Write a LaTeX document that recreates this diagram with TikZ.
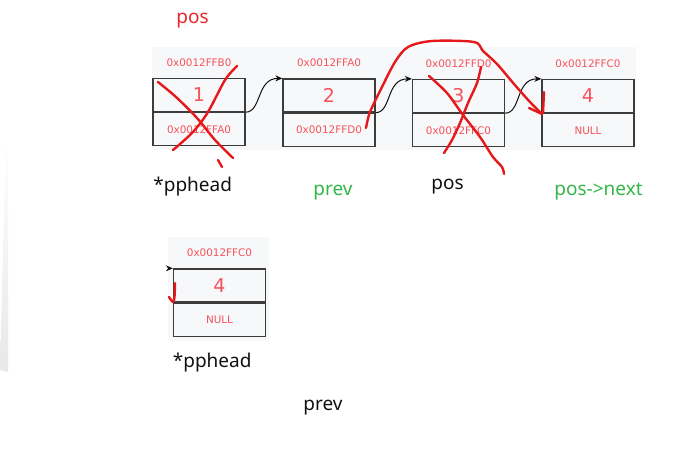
\documentclass[tikz,border=0pt]{standalone}
\usepackage{fontspec}
\setmainfont{Noto Sans}
\newfontfamily\cellfont{DejaVu Sans}
\usetikzlibrary{arrows.meta,positioning,calc}
\definecolor{ink}{HTML}{111111}
\definecolor{boxline}{HTML}{3C3C3C}
\definecolor{panelgray}{HTML}{F7F8FA}
\definecolor{cellred}{HTML}{F5525A}
\definecolor{markred}{HTML}{E5191C}
\definecolor{labelred}{HTML}{E8262B}
\definecolor{labelgreen}{HTML}{35B54A}
\newcommand{\listnode}[5]{%
  \node[valcell] (#1) at (#2) {#4};
  \node[nextcell, below=0pt of #1] (#1next) {#5};
  \node[addr, above=5.5pt of #1] (#1addr) {#3};
}
\tikzset{
  panel/.style={fill=panelgray,draw=none},
  valcell/.style={draw=boxline,line width=0.65pt,fill=panelgray,minimum width=46pt,minimum height=16.5pt,inner sep=0pt,text=cellred,font=\cellfont\fontsize{9.5}{9.5}\selectfont},
  nextcell/.style={valcell,font=\cellfont\fontsize{5.2}{5.2}\selectfont},
  addr/.style={inner sep=0pt,text=cellred,font=\cellfont\fontsize{5.2}{5.2}\selectfont},
  nextptr/.style={-{Stealth[length=3.5pt,width=3pt]},line width=0.5pt,draw=ink},
  redmark/.style={draw=markred,line width=1.2pt,line cap=round,line join=round},
  tag/.style={inner sep=0pt,anchor=base west,font=\fontsize{9.5}{9.5}\selectfont}
}
\begin{document}
\begin{tikzpicture}[x=0.5pt,y=-0.5pt]
  \useasboundingbox[fill=white] (0,0) rectangle (674,456);
  % faint edge at the left
  \shade[top color=white,bottom color=black!9] (6,135) -- (8,135) -- (8,372) -- (0,370) -- cycle;

  % panels
  \fill[panel] (152,47) rectangle (636,150);
  \fill[panel] (168,237) rectangle (269,341);

  % the list
  \listnode{n1}{199,95}{0x0012FFB0}{1}{0x0012FFA0}
  \listnode{n2}{329,95.5}{0x0012FFA0}{2}{0x0012FFD0}
  \listnode{n3}{458.5,96}{0x0012FFD0}{3}{0x0012FFC0}
  \listnode{n4}{588,96}{0x0012FFC0}{4}{NULL}
  \listnode{m4}{219.5,285.5}{0x0012FFC0}{4}{NULL}

  \draw[nextptr] (n1.south east) .. controls +(16,0) and +(-26,0) .. (n2.north west);
  \draw[nextptr] (n2.south east) .. controls +(16,0) and +(-26,0) .. (n3.north west);
  \draw[nextptr] (n3.south east) .. controls +(16,0) and +(-26,0) .. (n4.north west);
  \coordinate (stub) at ($(m4.north west)+(-4,0)$);
  \draw[nextptr] (stub) -- (m4.north west);

  % labels
  \node[tag,text=labelred] (postop) at (176,23) {pos};
  \node[tag,text=ink] (head1) at (153,191) {*pphead};
  \node[tag,text=labelgreen] (prev1) at (313,195) {prev};
  \node[tag,text=ink] (pos1) at (431,189) {pos};
  \node[tag,text=labelgreen] (posnext) at (554,195) {pos->next};
  \node[tag,text=ink] (head2) at (172.5,367) {*pphead};
  \node[tag,text=ink] (prev2) at (303,410) {prev};

  % red pen marks
  \draw[redmark] plot[smooth] coordinates {(158,82) (176,97) (197,118) (215,140) (233,158)};
  \draw[redmark] plot[smooth] coordinates {(237,66) (225,80) (208,112) (193,132) (173,150)};
  \draw[redmark] (218,160) -- (222,167);
  \draw[redmark] plot[smooth] coordinates {(429,76) (447,93) (463,115) (480,137) (493,157) (502,167) (504,174)};
  \draw[redmark] plot[smooth] coordinates {(481,67) (477,83) (468,103) (460,123) (452,140) (444,153)};
  \draw[redmark] plot[smooth] coordinates {(366,128) (370,112) (382,87) (395,62) (408,47) (432,41) (474,42) (483,51) (497,64) (514,84) (530,102) (542,114)};
  \draw[redmark] (529,108) -- (542,114);
  \draw[redmark] (544,92) -- (543,113);
  \draw[redmark] plot[smooth] coordinates {(175,283) (174.5,297) (173,302) (169,297)};
\end{tikzpicture}
\end{document}
